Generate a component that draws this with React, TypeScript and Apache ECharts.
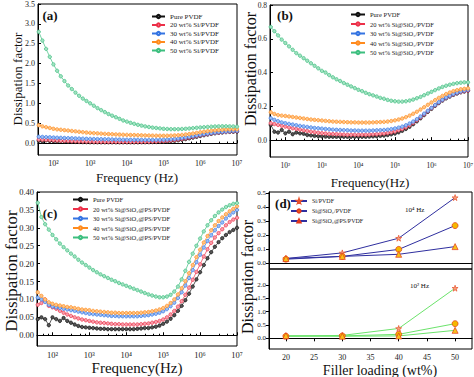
import React, { useEffect, useRef } from 'react';
import * as echarts from 'echarts';

const FONT = "'Liberation Serif', 'Times New Roman', serif";

const EXP = [1.6, 1.7, 1.8, 1.9, 2.0, 2.1, 2.2, 2.3, 2.4, 2.5, 2.6, 2.7, 2.8, 2.9, 3.0, 3.1, 3.2, 3.3, 3.4, 3.5, 3.6, 3.7, 3.8, 3.9, 4.0, 4.1, 4.2, 4.3, 4.4, 4.5, 4.6, 4.7, 4.8, 4.9, 5.0, 5.1, 5.2, 5.3, 5.4, 5.5, 5.6, 5.7, 5.8, 5.9, 6.0, 6.1, 6.2, 6.3, 6.4, 6.5, 6.6, 6.7, 6.8, 6.9, 7.0];

const A_NAMES = ['Pure PVDF', '20 wt% Si/PVDF', '30 wt% Si/PVDF', '40 wt% Si/PVDF', '50 wt% Si/PVDF'];
const B_NAMES = ['Pure PVDF', '20 wt% Si@SiO₂/PVDF', '30 wt% Si@SiO₂/PVDF', '40 wt% Si@SiO₂/PVDF', '50 wt% Si@SiO₂/PVDF'];
const C_NAMES = ['Pure PVDF', '20 wt% Si@SiO₂@PS/PVDF', '30 wt% Si@SiO₂@PS/PVDF', '40 wt% Si@SiO₂@PS/PVDF', '50 wt% Si@SiO₂@PS/PVDF'];
const D_NAMES = ['Si/PVDF', 'Si@SiO₂/PVDF', 'Si@SiO₂@PS/PVDF'];

const A_PURE = [0.06, 0.04, 0.07, 0.05, 0.05, 0.04, 0.05, 0.04, 0.035, 0.03, 0.03, 0.028, 0.025, 0.023, 0.022, 0.021, 0.02, 0.02, 0.02, 0.02, 0.02, 0.02, 0.02, 0.02, 0.02, 0.02, 0.02, 0.02, 0.021, 0.022, 0.023, 0.025, 0.027, 0.03, 0.034, 0.04, 0.048, 0.058, 0.07, 0.085, 0.1, 0.118, 0.138, 0.158, 0.178, 0.198, 0.216, 0.232, 0.246, 0.258, 0.268, 0.276, 0.282, 0.287, 0.29];
const A_20 = [0.09, 0.085, 0.08, 0.075, 0.07, 0.065, 0.06, 0.056, 0.052, 0.048, 0.045, 0.042, 0.04, 0.038, 0.036, 0.034, 0.033, 0.032, 0.031, 0.03, 0.03, 0.03, 0.03, 0.03, 0.03, 0.03, 0.03, 0.031, 0.032, 0.033, 0.035, 0.037, 0.04, 0.044, 0.049, 0.056, 0.065, 0.076, 0.089, 0.104, 0.12, 0.138, 0.157, 0.176, 0.195, 0.213, 0.229, 0.244, 0.257, 0.268, 0.277, 0.285, 0.291, 0.296, 0.3];
const A_30 = [0.16, 0.155, 0.15, 0.145, 0.14, 0.136, 0.132, 0.128, 0.124, 0.12, 0.117, 0.114, 0.111, 0.108, 0.105, 0.102, 0.1, 0.098, 0.096, 0.094, 0.092, 0.09, 0.088, 0.086, 0.085, 0.084, 0.083, 0.082, 0.081, 0.08, 0.08, 0.08, 0.081, 0.083, 0.086, 0.09, 0.096, 0.104, 0.114, 0.126, 0.14, 0.156, 0.173, 0.19, 0.207, 0.223, 0.238, 0.252, 0.264, 0.275, 0.284, 0.292, 0.299, 0.304, 0.308];
const A_40 = [0.45, 0.42, 0.4, 0.38, 0.36, 0.345, 0.335, 0.325, 0.315, 0.305, 0.295, 0.285, 0.275, 0.265, 0.257, 0.25, 0.244, 0.238, 0.232, 0.227, 0.222, 0.218, 0.214, 0.21, 0.207, 0.204, 0.201, 0.198, 0.195, 0.192, 0.19, 0.188, 0.186, 0.185, 0.185, 0.186, 0.188, 0.192, 0.198, 0.206, 0.216, 0.228, 0.242, 0.257, 0.272, 0.287, 0.3, 0.312, 0.322, 0.33, 0.337, 0.342, 0.345, 0.347, 0.348];
const A_50 = [2.8, 2.58, 2.37, 2.17, 1.98, 1.82, 1.68, 1.56, 1.45, 1.36, 1.27, 1.19, 1.12, 1.06, 1.0, 0.94, 0.88, 0.83, 0.78, 0.73, 0.69, 0.65, 0.61, 0.57, 0.54, 0.51, 0.485, 0.46, 0.44, 0.42, 0.405, 0.39, 0.38, 0.37, 0.36, 0.355, 0.35, 0.35, 0.35, 0.355, 0.36, 0.368, 0.376, 0.385, 0.393, 0.4, 0.407, 0.413, 0.418, 0.421, 0.423, 0.423, 0.421, 0.418, 0.414];

const B_PURE = [0.09, 0.05, 0.045, 0.06, 0.04, 0.05, 0.035, 0.045, 0.04, 0.038, 0.03, 0.028, 0.025, 0.023, 0.022, 0.021, 0.02, 0.02, 0.02, 0.02, 0.02, 0.02, 0.02, 0.02, 0.02, 0.02, 0.02, 0.021, 0.022, 0.023, 0.025, 0.027, 0.03, 0.034, 0.039, 0.046, 0.055, 0.066, 0.079, 0.094, 0.111, 0.129, 0.148, 0.167, 0.185, 0.203, 0.219, 0.234, 0.247, 0.258, 0.268, 0.276, 0.283, 0.288, 0.292];
const B_20 = [0.1, 0.095, 0.09, 0.085, 0.08, 0.075, 0.07, 0.066, 0.062, 0.058, 0.054, 0.05, 0.047, 0.044, 0.041, 0.039, 0.037, 0.036, 0.035, 0.034, 0.033, 0.032, 0.032, 0.032, 0.032, 0.032, 0.032, 0.033, 0.034, 0.035, 0.037, 0.039, 0.042, 0.046, 0.051, 0.058, 0.066, 0.076, 0.088, 0.102, 0.118, 0.135, 0.153, 0.171, 0.189, 0.206, 0.222, 0.237, 0.25, 0.261, 0.271, 0.279, 0.285, 0.29, 0.293];
const B_30 = [0.13, 0.12, 0.112, 0.105, 0.1, 0.096, 0.092, 0.088, 0.084, 0.081, 0.078, 0.075, 0.072, 0.07, 0.068, 0.066, 0.064, 0.062, 0.061, 0.06, 0.059, 0.058, 0.057, 0.057, 0.056, 0.056, 0.056, 0.056, 0.057, 0.058, 0.059, 0.06, 0.062, 0.065, 0.069, 0.074, 0.08, 0.088, 0.098, 0.11, 0.124, 0.14, 0.157, 0.174, 0.191, 0.208, 0.224, 0.239, 0.252, 0.263, 0.273, 0.281, 0.288, 0.293, 0.297];
const B_40 = [0.165, 0.155, 0.148, 0.145, 0.143, 0.14, 0.137, 0.134, 0.131, 0.128, 0.125, 0.122, 0.12, 0.118, 0.116, 0.114, 0.112, 0.11, 0.109, 0.108, 0.107, 0.106, 0.105, 0.105, 0.104, 0.104, 0.104, 0.104, 0.105, 0.106, 0.107, 0.108, 0.11, 0.113, 0.117, 0.122, 0.128, 0.136, 0.145, 0.156, 0.168, 0.181, 0.195, 0.209, 0.223, 0.237, 0.25, 0.262, 0.273, 0.282, 0.29, 0.296, 0.301, 0.304, 0.306];
const B_50 = [0.67, 0.645, 0.62, 0.595, 0.575, 0.555, 0.535, 0.515, 0.5, 0.485, 0.47, 0.455, 0.44, 0.425, 0.41, 0.4, 0.385, 0.372, 0.36, 0.35, 0.338, 0.328, 0.318, 0.308, 0.298, 0.29, 0.28, 0.272, 0.265, 0.258, 0.25, 0.245, 0.238, 0.233, 0.23, 0.228, 0.228, 0.23, 0.234, 0.24, 0.248, 0.256, 0.266, 0.276, 0.286, 0.296, 0.306, 0.315, 0.322, 0.328, 0.333, 0.337, 0.34, 0.342, 0.342];

const C_PURE = [0.045, 0.05, 0.045, 0.028, 0.05, 0.045, 0.04, 0.048, 0.04, 0.035, 0.03, 0.026, 0.023, 0.022, 0.021, 0.02, 0.019, 0.018, 0.018, 0.017, 0.017, 0.017, 0.017, 0.017, 0.017, 0.017, 0.017, 0.018, 0.019, 0.02, 0.02, 0.022, 0.024, 0.027, 0.032, 0.038, 0.046, 0.056, 0.068, 0.082, 0.098, 0.116, 0.136, 0.156, 0.176, 0.196, 0.215, 0.232, 0.247, 0.26, 0.271, 0.28, 0.288, 0.294, 0.3];
const C_20 = [0.085, 0.09, 0.1, 0.082, 0.078, 0.074, 0.068, 0.063, 0.058, 0.054, 0.05, 0.047, 0.044, 0.042, 0.04, 0.038, 0.036, 0.035, 0.034, 0.033, 0.032, 0.031, 0.031, 0.03, 0.03, 0.03, 0.03, 0.03, 0.031, 0.032, 0.033, 0.035, 0.037, 0.04, 0.044, 0.05, 0.058, 0.068, 0.08, 0.095, 0.113, 0.133, 0.155, 0.177, 0.198, 0.22, 0.24, 0.258, 0.273, 0.285, 0.296, 0.307, 0.316, 0.323, 0.328];
const C_30 = [0.105, 0.1, 0.093, 0.085, 0.08, 0.078, 0.076, 0.074, 0.072, 0.07, 0.068, 0.066, 0.064, 0.062, 0.06, 0.059, 0.058, 0.057, 0.056, 0.055, 0.054, 0.054, 0.053, 0.053, 0.053, 0.053, 0.053, 0.053, 0.054, 0.055, 0.056, 0.058, 0.06, 0.063, 0.067, 0.073, 0.081, 0.091, 0.104, 0.12, 0.139, 0.16, 0.182, 0.204, 0.225, 0.245, 0.263, 0.279, 0.293, 0.305, 0.315, 0.326, 0.335, 0.343, 0.35];
const C_40 = [0.12, 0.11, 0.1, 0.092, 0.088, 0.085, 0.083, 0.081, 0.079, 0.078, 0.076, 0.074, 0.072, 0.071, 0.07, 0.068, 0.067, 0.066, 0.065, 0.064, 0.063, 0.063, 0.062, 0.062, 0.062, 0.062, 0.062, 0.062, 0.063, 0.064, 0.065, 0.067, 0.069, 0.072, 0.076, 0.082, 0.09, 0.1, 0.114, 0.131, 0.151, 0.173, 0.196, 0.218, 0.239, 0.259, 0.277, 0.293, 0.307, 0.319, 0.329, 0.338, 0.346, 0.353, 0.36];
const C_50 = [0.37, 0.33, 0.31, 0.295, 0.28, 0.268, 0.256, 0.246, 0.237, 0.228, 0.22, 0.211, 0.203, 0.196, 0.189, 0.182, 0.176, 0.17, 0.165, 0.16, 0.155, 0.151, 0.146, 0.142, 0.138, 0.134, 0.13, 0.126, 0.122, 0.118, 0.114, 0.111, 0.108, 0.106, 0.106, 0.108, 0.113, 0.122, 0.136, 0.156, 0.18, 0.205, 0.228, 0.25, 0.27, 0.29, 0.307, 0.321, 0.333, 0.343, 0.351, 0.358, 0.363, 0.367, 0.369];

const D_X = [20, 30, 40, 50];
const D_HI = [
  [0.035, 0.075, 0.18, 0.47],
  [0.03, 0.05, 0.1, 0.27],
  [0.035, 0.05, 0.065, 0.12],
];
const D_LO = [
  [0.08, 0.11, 0.37, 1.88],
  [0.08, 0.09, 0.15, 0.55],
  [0.1, 0.08, 0.09, 0.3],
];

const A_YTICKS = [0, 0.5, 1, 1.5, 2, 2.5, 3, 3.5];
const B_YTICKS = [0, 0.2, 0.4, 0.6, 0.8];
const C_YTICKS = [0, 0.05, 0.1, 0.15, 0.2, 0.25, 0.3, 0.35, 0.4];
const D_HI_YTICKS = [0, 0.1, 0.2, 0.3, 0.4, 0.5];
const D_LO_YTICKS = [0, 0.5, 1, 1.5, 2];
const D_XTICKS = [20, 25, 30, 35, 40, 45, 50];

const COLORS = ['#111111', '#ec3049', '#3574e2', '#ff8b1e', '#3dbf7f'];
const FILLS = ['#555555', '#f8a0ac', '#9cc0f5', '#ffc586', '#a3e2c2'];

const SUP: Record<string, string> = { '0': '⁰', '1': '¹', '2': '²', '3': '³', '4': '⁴', '5': '⁵', '6': '⁶', '7': '⁷', '8': '⁸', '9': '⁹' };
const STAR = 'path://M50,0 L61,35 L98,35 L68,57 L79,91 L50,70 L21,91 L32,57 L2,35 L39,35 Z';

function logLabel(v: number) {
  const e = Math.round(Math.log10(v));
  if (Math.abs(Math.pow(10, e) - v) / v > 1e-6) return '';
  return '10' + String(e).split('').map((c) => SUP[c] || c).join('');
}

function logX(gridIndex: number, fontSize: number) {
  return {
    type: 'log', logBase: 10, gridIndex, min: 38, max: 1e7,
    axisLine: { lineStyle: { color: '#000', width: 1 } },
    axisTick: { inside: true, length: 3, lineStyle: { color: '#000' } },
    minorTick: { show: true, splitNumber: 4, length: 1.5, lineStyle: { color: '#000' } },
    splitLine: { show: false },
    axisLabel: { formatter: logLabel, fontSize, fontFamily: FONT, color: '#222', margin: 4, showMinLabel: false },
  };
}

function valY(gridIndex: number, min: number, max: number, ticks: number[], dec: number, fontSize: number, inside: boolean) {
  return {
    type: 'value', gridIndex, min, max,
    axisLine: { show: true, lineStyle: { color: '#000', width: 1 } },
    axisTick: { show: true, inside, length: 3, customValues: ticks, lineStyle: { color: '#000' } },
    splitLine: { show: false },
    axisLabel: { customValues: ticks, formatter: (v: number) => v.toFixed(dec), fontSize, fontFamily: FONT, color: '#222', margin: 3 },
  };
}

function freqSeries(names: string[], vals: number[][], idx: number) {
  return names.map((name, k) => ({
    type: 'line', name, xAxisIndex: idx, yAxisIndex: idx,
    data: EXP.map((e, i) => [Math.pow(10, e), vals[k][i]]),
    symbol: 'circle', symbolSize: 3.4, showSymbol: true,
    lineStyle: { width: 0.7, color: COLORS[k] },
    itemStyle: { color: FILLS[k], borderColor: COLORS[k], borderWidth: 0.7 },
    z: 2 + k,
  }));
}

const D_SYMBOLS = [STAR, 'circle', 'triangle'];
const D_FILL = ['#f7a27e', '#f5b800', '#f7c21a'];
const D_BORDER = ['#e8502a', '#e2381c', '#e2381c'];

function dSeries(vals: number[][], idx: number, lineColor: string) {
  return D_NAMES.map((name, k) => ({
    type: 'line', name, xAxisIndex: idx, yAxisIndex: idx,
    data: D_X.map((x, i) => [x, vals[k][i]]),
    symbol: D_SYMBOLS[k], symbolSize: 6, showSymbol: true,
    lineStyle: { width: 1, color: lineColor },
    itemStyle: { color: D_FILL[k], borderColor: D_BORDER[k], borderWidth: 0.7 },
  }));
}

function legend(data: string[], left: number, top: number, fontSize: number, gap: number, itemWidth: number) {
  return {
    data, left, top, orient: 'vertical', itemWidth, itemHeight: 4, itemGap: gap,
    selectedMode: false, padding: 0,
    textStyle: { fontSize, fontFamily: FONT, color: '#222' },
  };
}

function txt(text: string, x: number, y: number, size: number, opts: any = {}) {
  return {
    type: 'text', x, y, rotation: opts.rotation || 0, z: 100,
    style: {
      text, fill: '#111', fontSize: size, fontFamily: FONT, fontWeight: opts.bold ? 'bold' : 'normal',
      align: opts.align || 'center', verticalAlign: 'middle',
    },
  };
}

export default function App() {
  const ref = useRef<HTMLDivElement>(null);
  useEffect(() => {
    document.body.style.margin = '0';
    const chart = echarts.init(ref.current!, undefined, { renderer: 'svg' });
    const gridBase = { show: true, borderColor: '#000', borderWidth: 1, containLabel: false, outerBoundsMode: 'none' };
    chart.setOption({
      animation: false,
      backgroundColor: '#fff',
      textStyle: { fontFamily: FONT },
      grid: [
        { ...gridBase, left: 38, top: 4, width: 199, height: 151 },
        { ...gridBase, left: 270, top: 5, width: 198, height: 152 },
        { ...gridBase, left: 37, top: 192, width: 200, height: 154 },
        { ...gridBase, left: 269, top: 192, width: 203, height: 77 },
        { ...gridBase, left: 269, top: 269, width: 203, height: 80 },
      ],
      xAxis: [
        logX(0, 8),
        logX(1, 7.5),
        logX(2, 8.5),
        {
          type: 'value', gridIndex: 3, min: 17, max: 53,
          axisLine: { lineStyle: { color: '#000' } }, axisTick: { show: false }, axisLabel: { show: false }, splitLine: { show: false },
        },
        {
          type: 'value', gridIndex: 4, min: 17, max: 53,
          axisLine: { lineStyle: { color: '#000' } },
          axisTick: { customValues: D_XTICKS, length: 3, lineStyle: { color: '#000' } },
          axisLabel: { customValues: D_XTICKS, fontSize: 8, fontFamily: FONT, color: '#222', margin: 4 },
          splitLine: { show: false },
        },
      ],
      yAxis: [
        valY(0, -0.3, 3.5, A_YTICKS, 1, 8, true),
        valY(1, -0.1, 0.8, B_YTICKS, 1, 7.5, true),
        valY(2, -0.03, 0.4, C_YTICKS, 2, 8.5, true),
        valY(3, -0.04, 0.51, D_HI_YTICKS, 1, 7, false),
        valY(4, -0.4, 2.6, D_LO_YTICKS, 1, 7, false),
      ],
      legend: [
        legend(A_NAMES, 151, 13, 7, 1.5, 13),
        legend(B_NAMES, 350, 11, 6.5, 2.5, 14),
        legend(C_NAMES, 72, 196, 6.5, 2.5, 15),
        legend(D_NAMES, 290, 198, 6, 4, 16),
      ],
      series: [
        ...freqSeries(A_NAMES, [A_PURE, A_20, A_30, A_40, A_50], 0),
        ...freqSeries(B_NAMES, [B_PURE, B_20, B_30, B_40, B_50], 1),
        ...freqSeries(C_NAMES, [C_PURE, C_20, C_30, C_40, C_50], 2),
        ...dSeries(D_HI, 3, '#2f2f9f'),
        ...dSeries(D_LO, 4, '#6be36b'),
      ],
      graphic: [
        txt('(a)', 50, 15, 13, { bold: true }),
        txt('(b)', 285, 15, 13, { bold: true }),
        txt('(c)', 50, 213, 13, { bold: true }),
        txt('(d)', 283, 203, 13, { bold: true }),
        txt('Dissipation factor', 17, 79, 13, { rotation: Math.PI / 2 }),
        txt('Dissipation factor', 250, 69, 16, { rotation: Math.PI / 2 }),
        txt('Dissipation factor', 11, 271, 17, { rotation: Math.PI / 2 }),
        txt('Dissipation factor', 247, 277, 16, { rotation: Math.PI / 2 }),
        txt('Frequency (Hz)', 137, 177, 13),
        txt('Frequency(Hz)', 370, 182, 13),
        txt('Frequency(Hz)', 137, 368, 15),
        txt('Filler loading (wt%)', 380, 370, 14),
        txt('10⁴ Hz', 405, 210, 7, { align: 'left' }),
        txt('10² Hz', 410, 286, 7, { align: 'left' }),
      ],
    });
    return () => chart.dispose();
  }, []);
  return <div ref={ref} style={{ width: 474, height: 377 }} />;
}
